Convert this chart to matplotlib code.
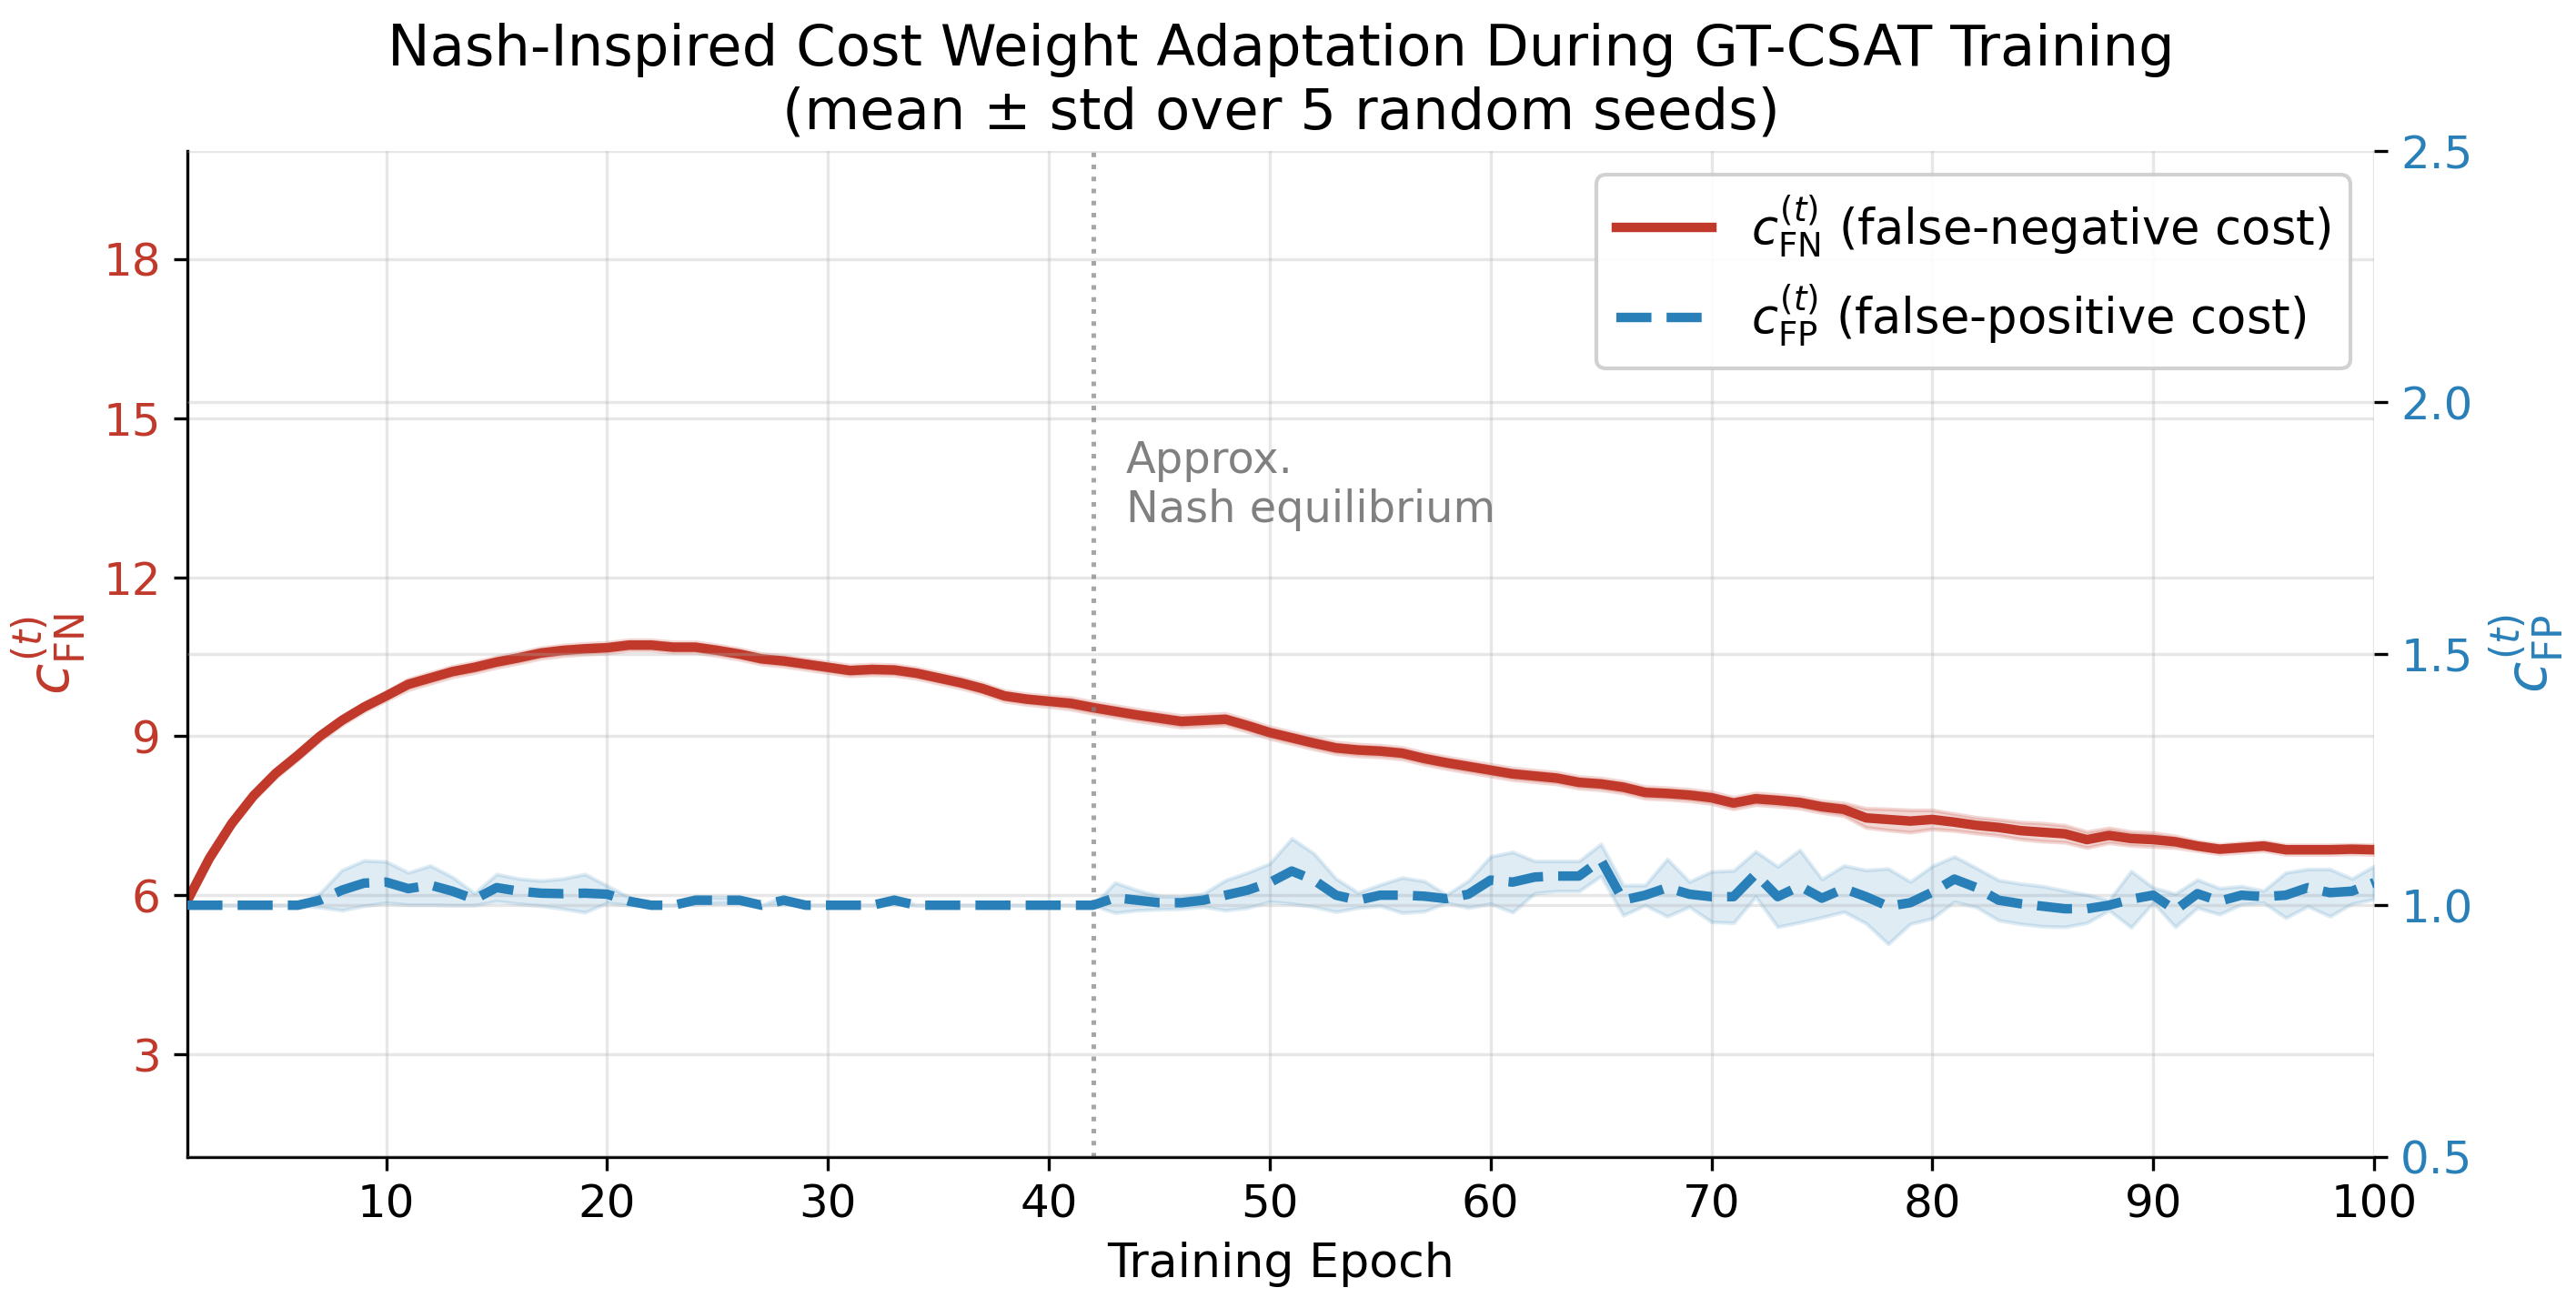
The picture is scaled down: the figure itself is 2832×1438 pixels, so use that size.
import matplotlib
matplotlib.use("Agg")
import matplotlib.pyplot as plt
import numpy as np

epochs = np.arange(1, 101)

fn_mean = [5.90, 6.70, 7.35, 7.88, 8.30, 8.64, 9.00, 9.30, 9.55, 9.76,
           9.98, 10.10, 10.22, 10.30, 10.40, 10.48, 10.57, 10.62, 10.65, 10.67,
           10.72, 10.72, 10.68, 10.68, 10.62, 10.55, 10.46, 10.42, 10.36, 10.30,
           10.24, 10.26, 10.25, 10.19, 10.10, 10.01, 9.90, 9.76, 9.70, 9.66,
           9.62, 9.54, 9.47, 9.40, 9.34, 9.28, 9.30, 9.32, 9.20, 9.07,
           8.97, 8.87, 8.78, 8.74, 8.72, 8.68, 8.58, 8.50, 8.43, 8.36,
           8.29, 8.25, 8.21, 8.13, 8.10, 8.04, 7.94, 7.92, 7.89, 7.84,
           7.74, 7.82, 7.79, 7.75, 7.67, 7.62, 7.46, 7.43, 7.40, 7.43,
           7.38, 7.32, 7.28, 7.22, 7.19, 7.16, 7.05, 7.13, 7.07, 7.05,
           7.01, 6.93, 6.87, 6.90, 6.93, 6.86, 6.86, 6.86, 6.87, 6.86]

fn_std = [0.00, 0.08, 0.08, 0.08, 0.08, 0.08, 0.08, 0.08, 0.08, 0.08,
          0.10, 0.10, 0.10, 0.10, 0.10, 0.10, 0.10, 0.10, 0.10, 0.10,
          0.10, 0.10, 0.10, 0.10, 0.10, 0.10, 0.10, 0.10, 0.10, 0.10,
          0.10, 0.10, 0.10, 0.10, 0.10, 0.10, 0.10, 0.10, 0.10, 0.10,
          0.11, 0.11, 0.11, 0.11, 0.11, 0.11, 0.11, 0.11, 0.11, 0.11,
          0.11, 0.11, 0.11, 0.11, 0.11, 0.11, 0.11, 0.11, 0.11, 0.11,
          0.11, 0.11, 0.11, 0.11, 0.11, 0.11, 0.11, 0.11, 0.11, 0.11,
          0.11, 0.11, 0.11, 0.11, 0.11, 0.12, 0.18, 0.20, 0.21, 0.18,
          0.16, 0.15, 0.15, 0.16, 0.17, 0.16, 0.15, 0.14, 0.13, 0.13,
          0.11, 0.09, 0.09, 0.09, 0.09, 0.09, 0.09, 0.09, 0.09, 0.09]

fp_mean = [1.000, 1.000, 1.000, 1.000, 1.000, 1.000, 1.010, 1.030, 1.044, 1.046,
           1.033, 1.040, 1.028, 1.012, 1.035, 1.028, 1.024, 1.023, 1.024, 1.022,
           1.008, 1.000, 1.000, 1.010, 1.010, 1.010, 1.000, 1.010, 1.000, 1.000,
           1.000, 1.000, 1.010, 1.000, 1.000, 1.000, 1.000, 1.000, 1.000, 1.000,
           1.000, 1.000, 1.015, 1.010, 1.005, 1.005, 1.010, 1.020, 1.030, 1.045,
           1.068, 1.050, 1.020, 1.010, 1.020, 1.020, 1.018, 1.013, 1.022, 1.050,
           1.046, 1.056, 1.058, 1.058, 1.090, 1.010, 1.020, 1.035, 1.022, 1.017,
           1.017, 1.062, 1.017, 1.038, 1.014, 1.033, 1.017, 0.998, 1.005, 1.026,
           1.052, 1.035, 1.010, 1.003, 0.998, 0.993, 0.993, 1.000, 1.012, 1.020,
           0.990, 1.023, 1.008, 1.020, 1.017, 1.020, 1.035, 1.025, 1.028, 1.045]

fp_std = [0.000, 0.000, 0.000, 0.000, 0.000, 0.000, 0.014, 0.040, 0.045, 0.041,
          0.032, 0.039, 0.028, 0.012, 0.027, 0.025, 0.025, 0.030, 0.038, 0.017,
          0.008, 0.000, 0.000, 0.008, 0.006, 0.006, 0.000, 0.008, 0.000, 0.000,
          0.000, 0.000, 0.008, 0.000, 0.000, 0.000, 0.000, 0.000, 0.000, 0.000,
          0.000, 0.000, 0.030, 0.020, 0.013, 0.012, 0.013, 0.030, 0.035, 0.038,
          0.065, 0.053, 0.033, 0.015, 0.021, 0.035, 0.030, 0.008, 0.027, 0.047,
          0.060, 0.032, 0.030, 0.030, 0.032, 0.030, 0.020, 0.057, 0.025, 0.050,
          0.052, 0.045, 0.060, 0.072, 0.038, 0.046, 0.053, 0.075, 0.042, 0.052,
          0.045, 0.039, 0.040, 0.040, 0.040, 0.036, 0.028, 0.010, 0.056, 0.015,
          0.033, 0.028, 0.026, 0.018, 0.012, 0.045, 0.037, 0.047, 0.025, 0.033]

x_ticks = [10, 20, 30, 40, 50, 60, 70, 80, 90, 100]
fn_ticks = [3, 6, 9, 12, 15, 18]
fp_ticks = [0.5, 1.0, 1.5, 2.0, 2.5]
nash_epoch = 42

RED = "#c0392b"
BLUE = "#2980b9"

fn_mean = np.array(fn_mean)
fn_std = np.array(fn_std)
fp_mean = np.array(fp_mean)
fp_std = np.array(fp_std)

fig, ax1 = plt.subplots(figsize=(2832 / 300, 1438 / 300), dpi=300)
fig.subplots_adjust(left=206 / 2832, right=2610 / 2832,
                    bottom=1 - 1271.6 / 1438, top=1 - 166 / 1438)

ax1.grid(True, alpha=0.3)
ax1.fill_between(epochs, fn_mean - fn_std, fn_mean + fn_std, color=RED, alpha=0.2)
l1, = ax1.plot(epochs, fn_mean, color=RED, lw=2.5)

ax1.axvline(nash_epoch, color="gray", ls=":", lw=1.2, alpha=0.7)
ax1.text(nash_epoch + 1.5, 14.6, "Approx.\nNash equilibrium", color="gray",
         fontsize=11.5, va="top", ha="left")

ax2 = ax1.twinx()
ax2.grid(True, axis="y", alpha=0.3)
ax2.fill_between(epochs, fp_mean - fp_std, fp_mean + fp_std, color=BLUE, alpha=0.15)
l2, = ax2.plot(epochs, fp_mean, color=BLUE, lw=2.5, ls="--")

ax1.set_xlim(1, 100)
ax1.set_xticks(x_ticks)
ax1.set_ylim(1.07, 20.04)
ax1.set_yticks(fn_ticks)
ax2.set_ylim(0.5, 2.5)
ax2.set_yticks(fp_ticks)

ax1.tick_params(axis="x", labelsize=12)
ax1.tick_params(axis="y", labelcolor=RED, labelsize=12)
ax2.tick_params(axis="y", labelcolor=BLUE, labelsize=12)

ax1.set_xlabel("Training Epoch", fontsize=12.5)
ax1.set_ylabel(r"$c_{\mathrm{FN}}^{(t)}$", color=RED, fontsize=15)
ax2.set_ylabel(r"$c_{\mathrm{FP}}^{(t)}$", color=BLUE, fontsize=15)

for s in ["top", "right"]:
    ax1.spines[s].set_visible(False)
for s in ["top", "right", "left", "bottom"]:
    ax2.spines[s].set_visible(False)

ax1.set_title("Nash-Inspired Cost Weight Adaptation During GT-CSAT Training\n"
              "(mean \u00b1 std over 5 random seeds)", fontsize=15)

ax2.legend([l1, l2],
           [r"$c_{\mathrm{FN}}^{(t)}$ (false-negative cost)",
            r"$c_{\mathrm{FP}}^{(t)}$ (false-positive cost)"],
           loc="upper right", fontsize=12.7, framealpha=0.9)

fig.savefig("out.png", dpi=300)
